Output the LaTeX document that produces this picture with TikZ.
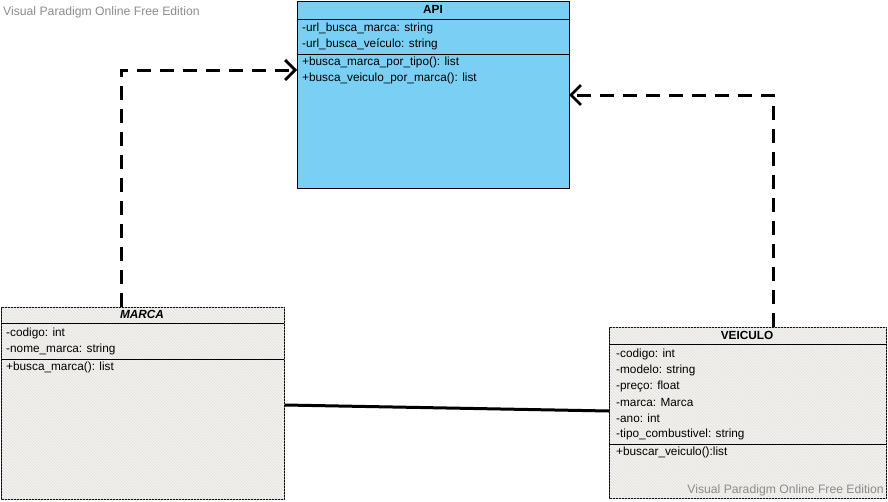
\documentclass[tikz,border=0pt]{standalone}
\usepackage{fontspec}
\setmainfont{Liberation Sans}
\usetikzlibrary{patterns,arrows.meta}
\definecolor{apiblue}{HTML}{7ACFF5}
\definecolor{hatchbg}{HTML}{F4F2EE}
\begin{document}
\begin{tikzpicture}[x=1pt,y=-1pt,
  box/.style={draw=black,line width=1pt,rectangle,inner sep=0pt,anchor=north west},
  sketch/.style={box,fill=hatchbg,postaction={pattern=north west lines,pattern color=black!12}},
  txt/.style={anchor=west,inner sep=0pt,font=\fontsize{11.8pt}{13pt}\selectfont},
  ttl/.style={inner sep=0pt,font=\bfseries\fontsize{11.8pt}{13pt}\selectfont},
  dep/.style={line width=3pt,dash pattern=on 14pt off 9pt,-{Straight Barb[length=10pt,width=20pt,line width=2.8pt]}},
  assoc/.style={line width=3pt}]
\useasboundingbox (0,0) rectangle (888,501);
\node[font=\fontsize{12.2pt}{13pt}\selectfont,text=black!45,anchor=west,inner sep=0pt] (wm1) at (3,12) {Visual Paradigm Online Free Edition};
% API
\node[box,fill=apiblue,minimum width=272pt,minimum height=187pt] (api) at (297,1) {};
\draw[line width=1pt] (297,19) -- (569,19) (297,54) -- (569,54);
\node[ttl] (apit) at (433,9) {API};
\node[txt] (a1) at (302,28) {-url\_busca\_marca: string};
\node[txt] (a2) at (302,44) {-url\_busca\_veículo: string};
\node[txt] (a3) at (302,62) {+busca\_marca\_por\_tipo(): list};
\node[txt] (a4) at (302,78) {+busca\_veiculo\_por\_marca(): list};
% MARCA
\node[sketch,minimum width=283pt,minimum height=192pt] (marca) at (1,307) {};
\draw[line width=1pt] (1,323) -- (284,323) (1,359) -- (284,359);
\node[ttl,font=\bfseries\itshape\fontsize{11.8pt}{13pt}\selectfont] (mt) at (142,314) {MARCA};
\node[txt] (m1) at (6,333) {-codigo: int};
\node[txt] (m2) at (6,349) {-nome\_marca: string};
\node[txt] (m3) at (6,367) {+busca\_marca(): list};
% VEICULO
\node[sketch,minimum width=277pt,minimum height=171pt] (veic) at (609,327) {};
\draw[line width=1pt] (609,344) -- (886,344) (609,444) -- (886,444);
\node[ttl] (vt) at (747,335) {VEICULO};
\node[txt] (v1) at (616,354) {-codigo: int};
\node[txt] (v2) at (616,370) {-modelo: string};
\node[txt] (v3) at (616,386) {-preço: float};
\node[txt] (v4) at (616,402) {-marca: Marca};
\node[txt] (v5) at (616,418) {-ano: int};
\node[txt] (v6) at (616,434) {-tipo\_combustivel: string};
\node[txt] (v7) at (616,452) {+buscar\_veiculo():list};
\node[font=\fontsize{12.2pt}{13pt}\selectfont,text=black!45,anchor=east,inner sep=0pt] (wm2) at (884,490) {Visual Paradigm Online Free Edition};
% connectors
\coordinate (c1) at (121,307);
\coordinate (c2) at (297,70);
\draw[dep] (c1) |- (c2);
\coordinate (c3) at (773,327);
\coordinate (c4) at (569,95);
\draw[dep] (c3) |- (c4);
\draw[assoc] (marca.east |- 0,405) -- (veic.west |- 0,411);
\end{tikzpicture}
\end{document}
